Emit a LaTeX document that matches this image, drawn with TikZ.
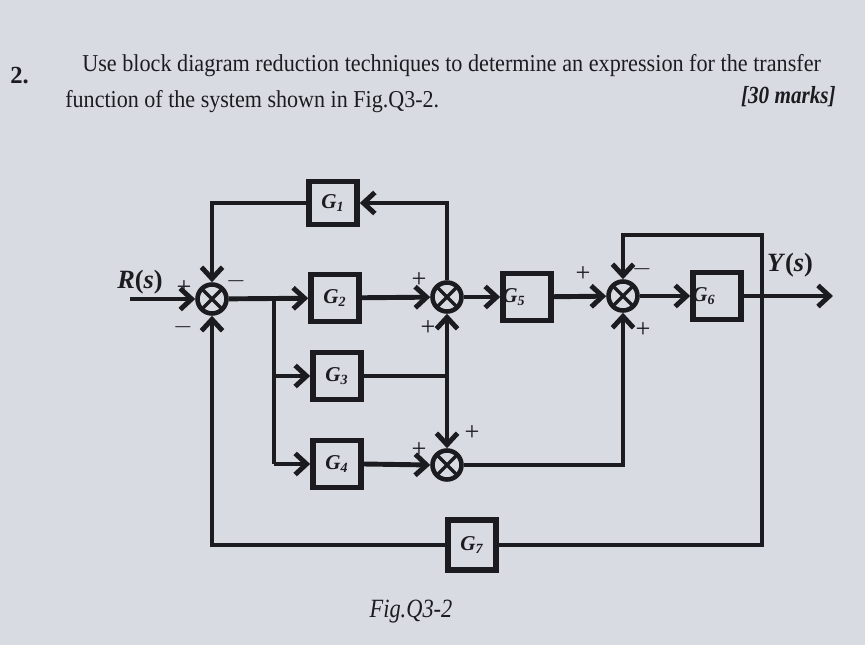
\documentclass[tikz,border=0pt]{standalone}
\usepackage{fontspec}
\setmainfont{Liberation Serif}
\usetikzlibrary{arrows.meta}
\definecolor{paper}{RGB}{216,219,226}
\definecolor{ink}{RGB}{28,28,32}
\begin{document}
\begin{tikzpicture}[x=0.02cm,y=-0.02cm,
  wire/.style={draw=ink,line width=2.8pt},
  arr/.style={wire,-{Straight Barb[length=6.5pt,width=12pt]}},
  blk/.style={draw=ink,line width=3.2pt,minimum width=0.96cm,minimum height=0.94cm,inner sep=0pt,fill=paper},
  sumj/.style={circle,draw=ink,line width=2.6pt,minimum size=0.58cm,inner sep=0pt,fill=paper,
    path picture={\draw[ink,line width=2pt] (path picture bounding box.north west)--(path picture bounding box.south east) (path picture bounding box.north east)--(path picture bounding box.south west);}},
  sgn/.style={font=\fontsize{15}{15}\selectfont,inner sep=0pt,text=ink},
  glab/.style={font=\fontsize{12}{12}\selectfont\bfseries\itshape,text=ink,inner sep=0pt}
]
\fill[paper] (0,0) rectangle (865,645);
\useasboundingbox (0,0) rectangle (865,645);

% title text
\node[anchor=base west,inner sep=0pt,text=ink] (num) at (10,84) {\fontsize{14}{14}\selectfont\bfseries 2.};
\node[anchor=base west,inner sep=0pt,text=ink] (t1) at (82,72) {\scalebox{0.915}[1]{\fontsize{13.8}{14}\selectfont Use block diagram reduction techniques to determine an expression for the transfer}};
\node[anchor=base west,inner sep=0pt,text=ink] (t2) at (65,108) {\scalebox{0.91}[1]{\fontsize{13.8}{14}\selectfont function of the system shown in Fig.Q3-2.}};
\node[anchor=base east,inner sep=0pt,text=ink] (mk) at (836,104) {\scalebox{0.86}[1]{\fontsize{14}{14}\selectfont\bfseries\itshape [30 marks]}};

% summing junctions
\node[sumj] (s1) at (212,299) {};
\node[sumj] (s2) at (447,297) {};
\node[sumj] (s3) at (447,465) {};
\node[sumj] (s4) at (623,296) {};

% blocks
\node[blk,minimum height=0.86cm] (g1) at (333,203) {};
\node[glab] at (g1) {G\textsubscript{1}};
\node[blk] (g2) at (335,298) {};
\node[glab] at (g2) {G\textsubscript{2}};
\node[blk] (g3) at (337,376) {};
\node[glab] at (g3) {G\textsubscript{3}};
\node[blk] (g4) at (337,464) {};
\node[glab] at (g4) {G\textsubscript{4}};
\node[blk] (g5) at (527,297) {};
\node[glab,anchor=west] at ([xshift=1pt]g5.west) {G\textsubscript{5}};
\node[blk] (g6) at (717,296) {};
\node[glab,anchor=west] at ([xshift=1pt]g6.west) {G\textsubscript{6}};
\node[blk,minimum height=1cm] (g7) at (472,545) {};
\node[glab] at (g7) {G\textsubscript{7}};

% coordinates
\coordinate (in) at (130,299);
\coordinate (out) at (833,296);
\coordinate (b1) at (274,299);
\coordinate (b2) at (447,376);
\coordinate (b3) at (762,296);
\coordinate (tr) at (762,235);
\coordinate (br) at (762,545);

% connectors
\draw[arr] (in) -- (s1);
\draw[arr] (s1) -- (g2);
\draw[wire] (b1) -- (b1 |- g4);
\draw[arr] (b1 |- g3) -- (g3);
\draw[arr] (b1 |- g4) -- (g4);
\draw[arr] (g2) -- (s2);
\draw[arr] (s2) -- (g5);
\draw[arr] (g5) -- (s4);
\draw[arr] (s4) -- (g6);
\draw[arr] (g6) -- (out);
% G1 loop
\draw[arr] (s2.north) |- (g1.east);
\draw[arr] (g1.west) -| (s1.north);
% G3 branch
\draw[wire] (g3.east) -- (b2);
\draw[arr] (b2) -- (s2.south);
\draw[arr] (b2) -- (s3.north);
\draw[arr] (g4.east) -- (s3.west);
\draw[arr] (s3.east) -| (s4.south);
% G6 loop
\draw[arr] (b3) -- (tr) -| (s4.north);
% G7 loop
\draw[wire] (b3) -- (br) -- (g7.east);
\draw[arr] (g7.west) -| (s1.south);

% signs
\node[sgn] at (184,288) {+};
\node[sgn] at (236,281) {$-$};
\node[sgn] at (183,327) {$-$};
\node[sgn] at (419,280) {+};
\node[sgn] at (428,328) {+};
\node[sgn] at (472,433) {+};
\node[sgn] at (419,450) {+};
\node[sgn] at (583,274) {+};
\node[sgn] at (642,269) {$-$};
\node[sgn] at (643,330) {+};

% signal labels
\node[text=ink,inner sep=0pt,font=\fontsize{15}{15}\selectfont] (rs) at (140,282) {{\bfseries\itshape R}\textbf{(}{\bfseries\itshape s}\textbf{)}};
\node[text=ink,inner sep=0pt,font=\fontsize{15}{15}\selectfont] (ys) at (790,265) {{\bfseries\itshape Y}\textbf{(}{\bfseries\itshape s}\textbf{)}};

% caption
\node[text=ink,inner sep=0pt] (cap) at (411,612) {\scalebox{0.85}[1]{\fontsize{15}{15}\selectfont\itshape Fig.Q3-2}};
\end{tikzpicture}
\end{document}
